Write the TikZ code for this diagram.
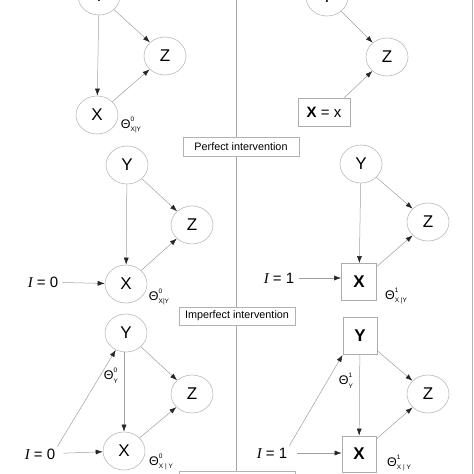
\documentclass[tikz,border=0pt]{standalone}
\usepackage{fontspec}
\setmainfont{Liberation Sans}
\newfontfamily\seriffont{Liberation Serif}
\usetikzlibrary{shapes.geometric,arrows.meta}
\newcommand\thlab[2]{Θ\rlap{\raisebox{1.05ex}{\fontsize{6.5}{7}\selectfont #1}}\raisebox{-0.55ex}{\fontsize{6.5}{7}\selectfont #2}}
\newcommand\ivar[1]{{\seriffont\itshape I} = #1}
\tikzset{
 var/.style={ellipse, draw=gray!55, line width=0.6pt, minimum width=42pt, minimum height=38pt, inner sep=0pt, font=\fontsize{17}{17}\selectfont},
 fixed/.style={rectangle, draw=gray!65, line width=0.8pt, minimum width=35pt, minimum height=37pt, inner sep=0pt, font=\fontsize{17}{17}\selectfont\bfseries},
 arr/.style={draw=gray!75, line width=0.5pt, -{Latex[length=7pt,width=5pt,color=black!85]}},
 lbl/.style={rectangle, draw=gray!60, fill=white, line width=0.6pt, minimum width=116pt, minimum height=19pt, inner sep=0pt, font=\fontsize{10.8}{12}\selectfont},
 th/.style={inner sep=0pt, font=\fontsize{12.5}{13}\selectfont},
 ivl/.style={inner sep=2pt, font=\fontsize{15}{15}\selectfont},
}
\begin{document}
\begin{tikzpicture}[x=1pt,y=-1pt]
\useasboundingbox (0,0) rectangle (474,474);
\clip (0,0) rectangle (474,474);
\fill[white] (0,0) rectangle (474,474);
% frame lines
\coordinate (dtop) at (236.5,0);
\coordinate (dbot) at (236.5,474);
\coordinate (rtop) at (472.5,0);
\coordinate (rbot) at (472.5,474);
\draw[gray!70, line width=1pt] (dtop) -- (dbot);
\draw[gray!60, line width=1.5pt] (rtop) -- (rbot);

% ---- row 1 left
\node[var] (Y1) at (99,-4) {Y};
\node[var] (Z1) at (165,56) {Z};
\node[var] (X1) at (97,115) {X};
\node[th] (T1) at (131,125) {\thlab{0}{X|Y}};
\draw[arr] (Y1) -- (X1);
\draw[arr] (Y1) -- (Z1);
\draw[arr] (X1) -- (Z1);

% ---- row 1 right
\node[var] (Y1r) at (327,-3) {Y};
\node[var] (Z1r) at (387,57) {Z};
\node[rectangle, draw=gray!65, line width=0.8pt, minimum width=52pt, minimum height=28pt, inner sep=0pt, font=\fontsize{15}{15}\selectfont] (B1r) at (324,112) {{\bfseries X} = x};
\coordinate (b1s) at ([xshift=-6pt]B1r.north east);
\draw[arr] (Y1r) -- (Z1r);
\draw[arr] (b1s) -- (Z1r);

\node[lbl] (L1) at (241,147) {Perfect intervention};

% ---- row 2 left
\node[var] (Y2) at (127,165) {Y};
\node[var] (Z2) at (192,225) {Z};
\node[var] (X2) at (126,284) {X};
\node[ivl] (I2) at (43,282) {\ivar{0}};
\node[th] (T2) at (159,297) {\thlab{0}{X|Y}};
\draw[arr] (Y2) -- (X2);
\draw[arr] (Y2) -- (Z2);
\draw[arr] (X2) -- (Z2);
\draw[arr, shorten <=2pt] (I2) -- (X2);

% ---- row 2 right
\node[var] (Y2r) at (361,164) {Y};
\node[var] (Z2r) at (428,222) {Z};
\node[fixed] (X2r) at (359,282) {X};
\node[ivl] (I2r) at (279,278) {\ivar{1}};
\node[th] (T2r) at (396,296) {\thlab{1}{X |Y}};
\draw[arr] (Y2r) -- (X2r);
\draw[arr] (Y2r) -- (Z2r);
\draw[arr] (X2r) -- (Z2r);
\draw[arr, shorten <=3pt] (I2r.east) -- (I2r.east -| X2r.west);

\node[lbl, minimum height=18pt] (L2) at (237,316) {Imperfect intervention};

% ---- row 3 left
\node[var] (Y3) at (126,333) {Y};
\node[var] (Z3) at (192,394) {Z};
\node[var] (X3) at (124,451) {X};
\node[ivl] (I3) at (40,454) {\ivar{0}};
\node[th] (TY3) at (111,376) {\thlab{0}{Y}};
\node[th] (T3) at (161,462) {\thlab{0}{X | Y}};
\draw[arr] (Y3.south -| X3) -- (X3);
\draw[arr] (Y3) -- (Z3);
\draw[arr] (X3) -- (Z3);
\draw[arr, shorten <=6pt] (I3) -- (X3);
\draw[arr] (I3.north east) -- (Y3);

% ---- row 3 right
\node[fixed, minimum width=34pt] (Y3r) at (360,336) {Y};
\node[var] (Z3r) at (428,394) {Z};
\node[fixed, minimum width=34pt, minimum height=36pt] (X3r) at (359,454) {X};
\node[ivl] (I3r) at (272,453) {\ivar{1}};
\node[th] (TY3r) at (346,381) {\thlab{1}{Y}};
\node[th] (T3r) at (399,463) {\thlab{1}{X | Y}};
\draw[arr] (Y3r) -- (X3r);
\draw[arr] (Y3r) -- (Z3r);
\draw[arr] (X3r) -- (Z3r);
\draw[arr, shorten <=8pt] (I3r.east) -- (I3r.east -| X3r.west);
\draw[arr] (I3r.north east) -- (Y3r.south west);

\node[lbl, anchor=north] (L3) at (237,470.5) {};
\end{tikzpicture}
\end{document}
